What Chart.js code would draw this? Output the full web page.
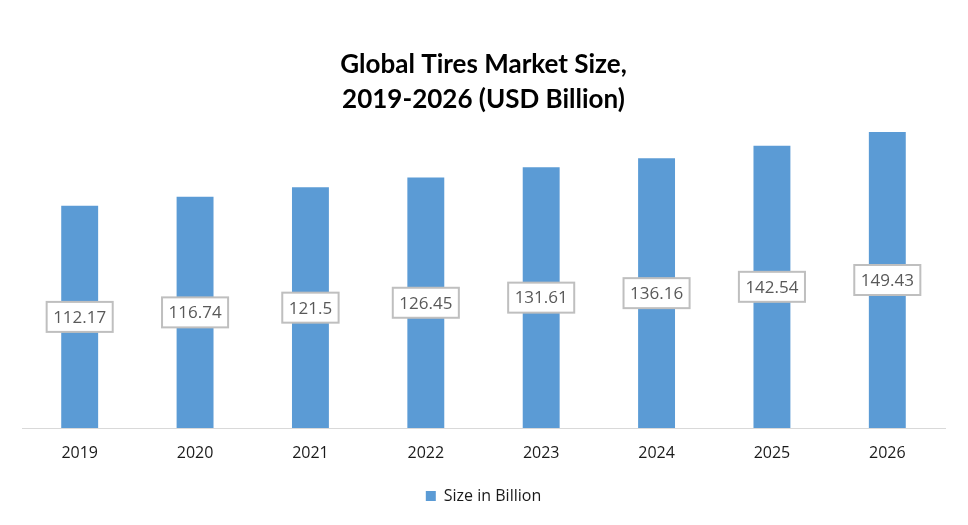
<!DOCTYPE html>
<html>
<head>
<meta charset="utf-8">
<script src="https://cdn.jsdelivr.net/npm/chart.js@4.4.1/dist/chart.umd.min.js"></script>
<style>
html,body{margin:0;padding:0;background:#fff;}
#wrap{width:968px;height:525px;}
</style>
</head>
<body>
<div id="wrap"><canvas id="c" width="968" height="525"></canvas></div>
<script>
const categories = ["2019","2020","2021","2022","2023","2024","2025","2026"];
const sizeValues = [112.17,116.74,121.5,126.45,131.61,136.16,142.54,149.43];
const seriesName = "Size in Billion";
const titleLines = ["Global Tires Market Size,","2019-2026 (USD Billion)"];

const boxLabels = {
  id: 'boxLabels',
  afterDatasetsDraw(chart) {
    const ctx = chart.ctx;
    const meta = chart.getDatasetMeta(0);
    const ds = chart.data.datasets[0];
    ctx.save();
    ctx.font = '17px "Open Sans"';
    ctx.textAlign = 'center';
    ctx.textBaseline = 'middle';
    meta.data.forEach((bar, i) => {
      const txt = String(ds.data[i]);
      const cy = (bar.y + bar.base) / 2;
      const w = ctx.measureText(txt).width + 13;
      const h = 30;
      ctx.fillStyle = '#ffffff';
      ctx.fillRect(bar.x - w/2, cy - h/2, w, h);
      ctx.strokeStyle = '#BFBFBF';
      ctx.lineWidth = 2;
      ctx.strokeRect(bar.x - w/2, cy - h/2, w, h);
      ctx.fillStyle = '#595959';
      ctx.fillText(txt, bar.x, cy + 1);
    });
    ctx.restore();
  }
};

new Chart(document.getElementById('c'), {
  type: 'bar',
  data: {
    labels: categories,
    datasets: [{
      label: seriesName,
      data: sizeValues,
      backgroundColor: '#5B9BD5',
      borderWidth: 0,
      categoryPercentage: 1.0,
      barPercentage: 0.32
    }]
  },
  options: {
    responsive: false,
    animation: false,
    devicePixelRatio: 1,
    layout: { padding: { left: 22, right: 23, top: 0, bottom: 11 } },
    plugins: {
      title: {
        display: true,
        text: titleLines,
        color: '#000000',
        font: { family: 'Lato', size: 26, weight: 'bold', lineHeight: 1.346 },
        padding: { top: 47, bottom: 2 }
      },
      legend: {
        position: 'bottom',
        labels: {
          boxWidth: 10, boxHeight: 10, padding: 10,
          color: '#1a1a1a',
          font: { family: 'Open Sans', size: 16 }
        }
      },
      tooltip: { enabled: false }
    },
    scales: {
      x: {
        grid: { display: false, drawTicks: false },
        border: { display: true, color: '#D9D9D9', width: 1 },
        ticks: { color: '#1a1a1a', padding: 16, font: { family: 'Open Sans', size: 16 } },
        afterFit: s => { s.height = 50; }
      },
      y: {
        display: false,
        min: 0,
        max: 156
      }
    }
  },
  plugins: [boxLabels]
});
</script>
</body>
</html>
